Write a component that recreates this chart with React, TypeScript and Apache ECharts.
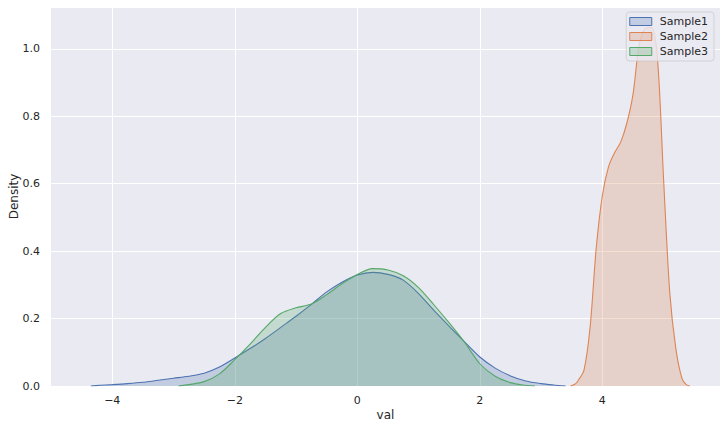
import React, { useEffect, useRef } from 'react';
import * as echarts from 'echarts';

const seriesNames = ['Sample1', 'Sample2', 'Sample3'];
const seriesColors = ['#4C72B0', '#DD8452', '#55A868'];
const seriesFills = ['rgba(76,114,176,0.25)', 'rgba(221,132,82,0.25)', 'rgba(85,168,104,0.25)'];

const sample1X = [-4.35, -4.2, -4.0, -3.75, -3.5, -3.25, -3.0, -2.75, -2.5, -2.25, -2.0, -1.75, -1.5, -1.25, -1.0, -0.75, -0.5, -0.25, 0.0, 0.25, 0.5, 0.75, 1.0, 1.25, 1.5, 1.75, 2.0, 2.25, 2.5, 2.75, 3.0, 3.2, 3.4];
const sample1Y = [0.0, 0.002, 0.004, 0.007, 0.011, 0.017, 0.023, 0.029, 0.038, 0.056, 0.083, 0.111, 0.141, 0.174, 0.207, 0.242, 0.279, 0.308, 0.329, 0.337, 0.331, 0.314, 0.274, 0.224, 0.177, 0.131, 0.086, 0.053, 0.03, 0.015, 0.007, 0.003, 0.0];

const sample2X = [3.48, 3.55, 3.6, 3.7, 3.8, 3.9, 4.0, 4.1, 4.2, 4.3, 4.4, 4.5, 4.6, 4.7, 4.8, 4.9, 5.0, 5.1, 5.2, 5.3, 5.37, 5.43];
const sample2Y = [0.0, 0.005, 0.015, 0.047, 0.175, 0.41, 0.565, 0.65, 0.692, 0.724, 0.78, 0.865, 1.01, 1.06, 1.063, 0.97, 0.61, 0.277, 0.11, 0.022, 0.004, 0.0];

const sample3X = [-2.92, -2.75, -2.5, -2.25, -2.0, -1.75, -1.5, -1.25, -1.0, -0.75, -0.5, -0.25, 0.0, 0.25, 0.5, 0.75, 1.0, 1.25, 1.5, 1.75, 2.0, 2.25, 2.5, 2.7, 2.9];
const sample3Y = [0.0, 0.004, 0.013, 0.036, 0.078, 0.124, 0.174, 0.215, 0.232, 0.243, 0.271, 0.303, 0.331, 0.348, 0.344, 0.327, 0.292, 0.241, 0.187, 0.13, 0.066, 0.029, 0.01, 0.003, 0.0];

const xLabelValues = [-4, -2, 0, 2, 4];
const yLabelValues = [0, 0.2, 0.4, 0.6, 0.8, 1.0];

const xs = [sample1X, sample2X, sample3X];
const ys = [sample1Y, sample2Y, sample3Y];

const FONT = 'DejaVu Sans';
const TEXT = '#262626';

export default function App() {
  const ref = useRef<HTMLDivElement>(null);
  useEffect(() => {
    if (!ref.current) return;
    const chart = echarts.init(ref.current, null, { renderer: 'svg' });
    const series = seriesNames.map((name, i) => ({
      name,
      type: 'line',
      data: xs[i].map((x, j) => [x, ys[i][j]]),
      symbol: 'none',
      showSymbol: false,
      smooth: 0.3,
      lineStyle: { color: seriesColors[i], width: 1.1 },
      itemStyle: { color: seriesColors[i] },
      areaStyle: { color: seriesFills[i], opacity: 1 },
      z: 2 + i,
      silent: true,
    }));
    chart.setOption({
      animation: false,
      backgroundColor: '#ffffff',
      textStyle: { fontFamily: FONT },
      grid: {
        left: 51,
        right: 6,
        top: 7,
        bottom: 40,
        outerBoundsMode: 'none',
        containLabel: false,
        show: true,
        backgroundColor: '#EAEAF2',
        borderWidth: 0,
      },
      legend: {
        orient: 'vertical',
        right: 12,
        top: 12,
        padding: [4, 6, 4, 3],
        itemWidth: 22,
        itemHeight: 8,
        itemGap: 4,
        backgroundColor: 'rgba(234,234,242,0.8)',
        borderColor: 'rgba(204,204,204,0.8)',
        borderWidth: 1,
        borderRadius: 3,
        selectedMode: false,
        textStyle: { fontFamily: FONT, fontSize: 11, color: TEXT, padding: [0, 0, 0, 3] },
        data: seriesNames.map((name, i) => ({
          name,
          icon: 'rect',
          itemStyle: { color: seriesFills[i], borderColor: seriesColors[i], borderWidth: 1 },
        })),
      },
      xAxis: {
        type: 'value',
        min: -5,
        max: 5.92,
        interval: 1,
        name: 'val',
        nameLocation: 'middle',
        nameGap: 23,
        nameMoveOverlap: false,
        nameTextStyle: { fontFamily: FONT, fontSize: 12, color: TEXT },
        axisLine: { show: false },
        axisTick: { show: false },
        axisLabel: {
          margin: 9,
          fontFamily: FONT,
          fontSize: 11,
          color: TEXT,
          hideOverlap: false,
          formatter: (v: number) => {
            const r = Math.round(v);
            if (Math.abs(v - r) > 1e-6) return '';
            if (!xLabelValues.includes(r)) return '';
            return r < 0 ? '\u2212' + Math.abs(r) : String(r);
          },
        },
        splitLine: {
          show: true,
          lineStyle: { color: ['rgba(0,0,0,0)', '#ffffff'], width: 1 },
        },
      },
      yAxis: {
        type: 'value',
        min: 0,
        max: 1.124,
        interval: 0.2,
        name: 'Density',
        nameLocation: 'middle',
        nameGap: 31,
        nameMoveOverlap: false,
        nameTextStyle: { fontFamily: FONT, fontSize: 12, color: TEXT },
        axisLine: { show: false },
        axisTick: { show: false },
        axisLabel: {
          margin: 11,
          fontFamily: FONT,
          fontSize: 11,
          color: TEXT,
          hideOverlap: false,
          formatter: (v: number) => {
            const hit = yLabelValues.find((t) => Math.abs(t - v) < 1e-6);
            return hit === undefined ? '' : hit.toFixed(1);
          },
        },
        splitLine: { show: true, lineStyle: { color: '#ffffff', width: 1 } },
      },
      series,
    });
    return () => chart.dispose();
  }, []);
  return <div ref={ref} style={{ position: 'fixed', left: 0, top: 0, width: 726, height: 426 }} />;
}
